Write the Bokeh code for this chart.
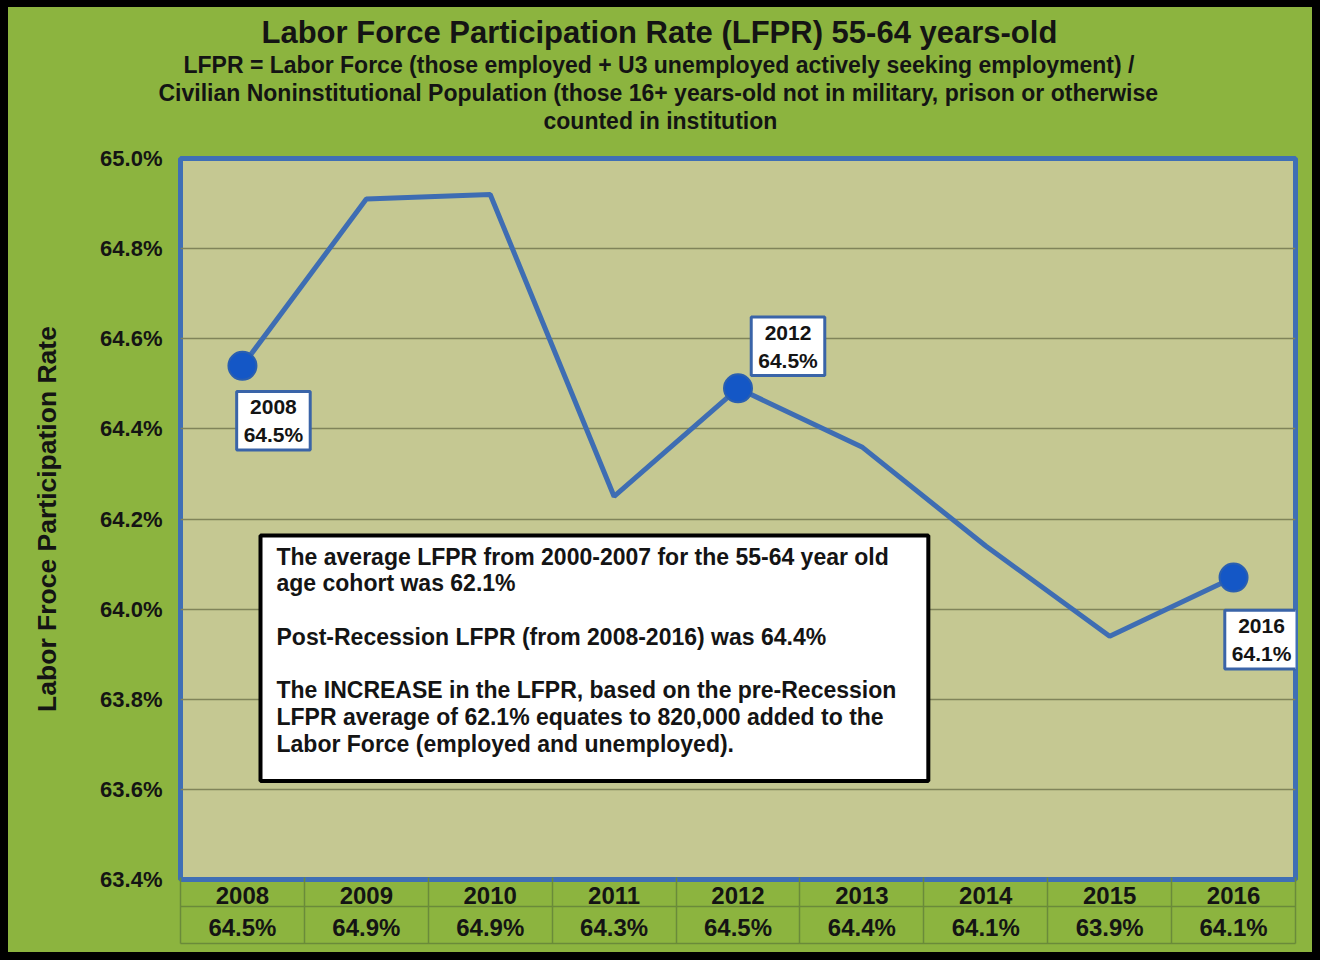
from bokeh.plotting import figure
from bokeh.models import (Range1d, FixedTicker, PrintfTickFormatter, LinearAxis,
                          Label, Title, ColumnDataSource)
from bokeh.embed import file_html
from bokeh.resources import INLINE

# ---------------- data ----------------
years = [2008, 2009, 2010, 2011, 2012, 2013, 2014, 2015, 2016]
lfpr = [64.54, 64.91, 64.92, 64.25, 64.49, 64.36, 64.14, 63.94, 64.07]
table_labels = ["64.5%", "64.9%", "64.9%", "64.3%", "64.5%", "64.4%", "64.1%", "63.9%", "64.1%"]
marked_years = [2008, 2012, 2016]
marked_labels = ["2008\n64.5%", "2012\n64.5%", "2016\n64.1%"]
y_ticks = [63.4, 63.6, 63.8, 64.0, 64.2, 64.4, 64.6, 64.8, 65.0]

title_text = "Labor Force Participation Rate (LFPR) 55-64 years-old"
subtitle_lines = [
    "LFPR = Labor Force (those employed + U3 unemployed actively seeking employment) /",
    "Civilian Noninstitutional Population (those 16+ years-old not in military, prison or otherwise",
    "counted in institution",
]
note_text = ("The average LFPR from 2000-2007 for the 55-64 year old\n"
             "age cohort was 62.1%\n"
             "\n"
             "Post-Recession LFPR (from 2008-2016) was 64.4%\n"
             "\n"
             "The INCREASE in the LFPR, based on the pre-Recession\n"
             "LFPR average of 62.1% equates to 820,000 added to the\n"
             "Labor Force (employed and unemployed).")
y_axis_label = "Labor Froce Participation Rate"

# ---------------- style ----------------
GREEN = "#8cb43f"
TAN = "#c5c892"
GRID = "#80845a"
FRAME_BLUE = "#3f6fb5"
LINE_BLUE = "#3e6db3"
MARK_BLUE = "#1457c6"
BOX_BLUE = "#3a64a8"
TABLE_LINE = "#6a8a3a"
TXT = "#141414"
SANS = "Liberation Sans"

p = figure(width=1320, height=960, output_backend="svg", toolbar_location=None,
           x_range=Range1d(years[0] - 0.5, years[-1] + 0.5),
           y_range=Range1d(y_ticks[0], y_ticks[-1]),
           min_border_left=180, min_border_right=25, min_border_top=158, min_border_bottom=81)
# thick black picture frame drawn over the whole canvas edge
p.stylesheets = [
    ":host { position: relative; }"
    ":host::after { content: ''; position: absolute; left: 0; top: 0; right: 0; bottom: 0;"
    " border: 8px solid #000; border-top-width: 7px; box-sizing: border-box;"
    " pointer-events: none; z-index: 1000; }"
]
p.border_fill_color = GREEN
p.background_fill_color = TAN
p.outline_line_color = FRAME_BLUE
p.outline_line_width = 5

p.xgrid.grid_line_color = None
p.ygrid.ticker = FixedTicker(ticks=y_ticks)
p.ygrid.grid_line_color = GRID
p.ygrid.grid_line_width = 1.5

# y axis
ya = p.yaxis[0]
ya.ticker = FixedTicker(ticks=y_ticks)
ya.formatter = PrintfTickFormatter(format="%.1f%%")
ya.axis_line_color = None
ya.major_tick_line_color = None
ya.minor_tick_line_color = None
ya.major_label_text_font = SANS
ya.major_label_text_font_size = "22px"
ya.major_label_text_font_style = "bold"
ya.major_label_text_color = TXT
ya.major_label_standoff = 12
ya.axis_label = y_axis_label
ya.axis_label_text_font = SANS
ya.axis_label_text_font_size = "26.5px"
ya.axis_label_text_font_style = "bold"
ya.axis_label_text_color = TXT
ya.axis_label_standoff = 35

# x axis: years row of the table
xa = p.xaxis[0]
xa.ticker = FixedTicker(ticks=years)
xa.major_label_overrides = {y: str(y) for y in years}
xa.axis_line_color = None
xa.major_tick_line_color = None
xa.minor_tick_line_color = None
xa.major_tick_out = 0
xa.major_tick_in = 0
xa.major_label_standoff = 7
xa.major_label_text_font = SANS
xa.major_label_text_font_size = "24px"
xa.major_label_text_font_style = "bold"
xa.major_label_text_color = TXT

# values row of the table
va = LinearAxis(ticker=FixedTicker(ticks=years),
                major_label_overrides=dict(zip(years, table_labels)),
                axis_line_color=TABLE_LINE, axis_line_width=1.5,
                major_tick_line_color=None, minor_tick_line_color=None,
                major_tick_out=0, major_tick_in=0, major_label_standoff=7,
                major_label_text_font=SANS, major_label_text_font_size="24px",
                major_label_text_font_style="bold", major_label_text_color=TXT)
p.add_layout(va, "below")

# cell boundaries of the table
bounds = [y - 0.5 for y in years] + [years[-1] + 0.5]
ba = LinearAxis(ticker=FixedTicker(ticks=bounds),
                major_label_overrides={b: "" for b in bounds},
                major_label_text_font_size="1px", major_label_standoff=0,
                axis_line_color=TABLE_LINE, axis_line_width=1.5,
                major_tick_line_color=TABLE_LINE, major_tick_line_width=1.5,
                major_tick_in=66, major_tick_out=0, minor_tick_line_color=None)
p.add_layout(ba, "below")

# series
src = ColumnDataSource(dict(year=years, lfpr=lfpr))
p.line("year", "lfpr", source=src, line_color=LINE_BLUE, line_width=5)
mk_vals = [lfpr[years.index(y)] for y in marked_years]
mk = ColumnDataSource(dict(year=marked_years, lfpr=mk_vals))
p.scatter("year", "lfpr", source=mk, size=28, fill_color=MARK_BLUE,
          line_color="#2a5fb0", line_width=2)

offsets = [(31, -55), (50, 42), (28, -62)]
for yr, val, txt, (dx, dy) in zip(marked_years, mk_vals, marked_labels, offsets):
    p.add_layout(Label(x=yr, y=val, text=txt, x_offset=dx, y_offset=dy,
                       text_align="center", text_baseline="middle",
                       text_font=SANS, text_font_style="bold", text_font_size="21px",
                       text_color=TXT, text_line_height=1.2,
                       background_fill_color="white",
                       border_line_color=BOX_BLUE, border_line_width=3,
                       padding=(7, 7, 4, 4)))

# note box (padding: left, right, top, bottom)
p.add_layout(Label(x=80, y=344, x_units="screen", y_units="screen", text=note_text,
                   anchor="top_left", text_align="left", text_baseline="top",
                   text_font=SANS, text_font_style="bold", text_font_size="23px",
                   text_color=TXT, text_line_height=1.03,
                   background_fill_color="white",
                   border_line_color="black", border_line_width=4,
                   padding=(16, 32, 8, 24)))

# titles (first added sits closest to the frame)
p.title = None
p.add_layout(Title(text=" ", text_font_size="1px", standoff=22), "above")  # spacer
title_specs = [(subtitle_lines[2], "23px", 363),
               (subtitle_lines[1], "23px", -22),
               (subtitle_lines[0], "23px", 3)]
for txt, size, off in title_specs:
    p.add_layout(Title(text=txt, align="left", offset=off, standoff=0,
                       text_font=SANS, text_font_style="bold", text_font_size=size,
                       text_line_height=0.92, text_color=TXT), "above")
p.add_layout(Title(text=title_text, align="left", offset=81, standoff=0,
                   text_font=SANS, text_font_style="bold", text_font_size="31px",
                   text_color=TXT), "above")

open("out.html", "w").write(file_html(p, INLINE))
